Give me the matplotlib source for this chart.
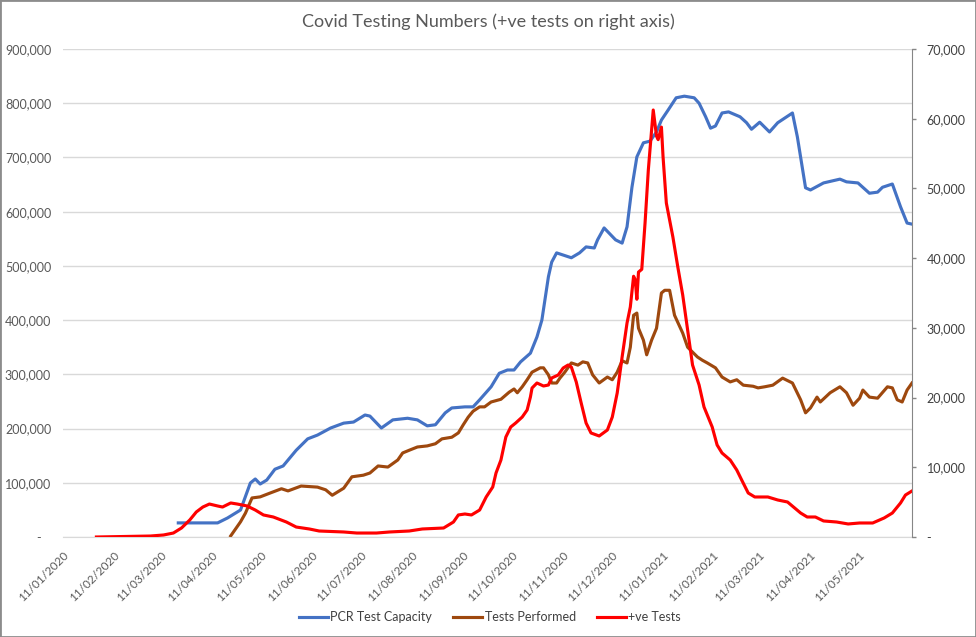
import pandas as pd
import matplotlib
matplotlib.use('Agg')
import matplotlib.pyplot as plt
import matplotlib.dates as mdates
from matplotlib.ticker import FuncFormatter, MultipleLocator
from matplotlib.patches import Rectangle

plt.rcParams['font.family'] = ['Lato', 'DejaVu Sans']

# PCR Test Capacity (eixo esquerdo)
cap_datas = ['2020-03-19', '2020-04-12', '2020-04-18', '2020-04-26', '2020-05-02', '2020-05-05',
             '2020-05-08', '2020-05-12', '2020-05-17', '2020-05-22', '2020-05-30', '2020-06-06',
             '2020-06-12', '2020-06-20', '2020-06-28', '2020-07-04', '2020-07-11', '2020-07-14',
             '2020-07-21', '2020-07-28', '2020-08-06', '2020-08-12', '2020-08-18', '2020-08-23',
             '2020-08-29', '2020-09-02', '2020-09-10', '2020-09-15', '2020-09-19', '2020-09-26',
             '2020-10-01', '2020-10-06', '2020-10-10', '2020-10-14', '2020-10-20', '2020-10-24',
             '2020-10-27', '2020-10-31', '2020-11-02', '2020-11-05', '2020-11-09', '2020-11-14',
             '2020-11-19', '2020-11-23', '2020-11-28', '2020-11-30', '2020-12-04', '2020-12-11',
             '2020-12-15', '2020-12-18', '2020-12-21', '2020-12-24', '2020-12-28', '2021-01-01',
             '2021-01-05', '2021-01-08', '2021-01-12', '2021-01-17', '2021-01-22', '2021-01-28',
             '2021-01-31', '2021-02-04', '2021-02-07', '2021-02-10', '2021-02-14', '2021-02-18',
             '2021-02-25', '2021-03-01', '2021-03-04', '2021-03-09', '2021-03-15', '2021-03-20',
             '2021-03-29', '2021-04-01', '2021-04-06', '2021-04-09', '2021-04-17', '2021-04-27',
             '2021-05-01', '2021-05-08', '2021-05-15', '2021-05-20', '2021-05-23', '2021-05-29',
             '2021-06-03', '2021-06-07', '2021-06-10']
cap_valores = [26000, 26000, 35000, 49800, 99600, 107000,
               97700, 105000, 125000, 131000, 160000, 181000,
               188000, 201000, 210000, 212000, 225000, 223000,
               201000, 216000, 219000, 216000, 205000, 207000,
               229000, 238000, 240000, 240000, 253000, 277000,
               302000, 308000, 308000, 323000, 339000, 369000,
               400000, 480000, 507000, 524000, 520000, 515000,
               524000, 535000, 533000, 548000, 570000, 548000,
               542000, 572000, 645000, 701000, 727000, 730000,
               747000, 769000, 787000, 810000, 813000, 810000,
               800000, 775000, 754000, 758000, 782000, 784000,
               775000, 764000, 752000, 765000, 747000, 764000,
               782000, 738000, 644000, 640000, 653000, 660000,
               655000, 653000, 634000, 636000, 645000, 651000,
               609000, 579000, 577000]

# Tests Performed (eixo esquerdo)
test_datas = ['2020-04-20', '2020-04-26', '2020-04-29', '2020-05-03', '2020-05-08', '2020-05-14',
              '2020-05-21', '2020-05-25', '2020-06-02', '2020-06-12', '2020-06-17', '2020-06-21',
              '2020-06-28', '2020-07-03', '2020-07-10', '2020-07-14', '2020-07-19', '2020-07-25',
              '2020-07-31', '2020-08-03', '2020-08-07', '2020-08-12', '2020-08-18', '2020-08-23',
              '2020-08-27', '2020-09-02', '2020-09-06', '2020-09-09', '2020-09-12', '2020-09-15',
              '2020-09-19', '2020-09-22', '2020-09-26', '2020-10-02', '2020-10-07', '2020-10-10',
              '2020-10-12', '2020-10-15', '2020-10-18', '2020-10-21', '2020-10-26', '2020-10-28',
              '2020-10-31', '2020-11-02', '2020-11-05', '2020-11-07', '2020-11-10', '2020-11-14',
              '2020-11-18', '2020-11-21', '2020-11-24', '2020-11-27', '2020-12-01', '2020-12-06',
              '2020-12-09', '2020-12-12', '2020-12-15', '2020-12-18', '2020-12-20', '2020-12-22',
              '2020-12-24', '2020-12-25', '2020-12-28', '2020-12-30', '2021-01-02', '2021-01-05',
              '2021-01-08', '2021-01-10', '2021-01-13', '2021-01-16', '2021-01-21', '2021-01-24',
              '2021-01-30', '2021-02-02', '2021-02-05', '2021-02-10', '2021-02-14', '2021-02-19',
              '2021-02-23', '2021-02-27', '2021-03-05', '2021-03-08', '2021-03-12', '2021-03-17',
              '2021-03-23', '2021-03-29', '2021-04-03', '2021-04-06', '2021-04-09', '2021-04-13',
              '2021-04-15', '2021-04-21', '2021-04-27', '2021-05-01', '2021-05-05', '2021-05-09',
              '2021-05-11', '2021-05-15', '2021-05-20', '2021-05-26', '2021-05-29', '2021-06-01',
              '2021-06-04', '2021-06-07', '2021-06-10']
test_valores = [2000, 28000, 44000, 72000, 74000, 81000,
                89000, 85000, 94000, 92000, 87000, 77000,
                90000, 111000, 114000, 118000, 131000, 129000,
                142000, 155000, 160000, 166000, 168000, 172000,
                181000, 184000, 192000, 207000, 221000, 232000,
                240000, 240000, 249000, 254000, 267000, 273000,
                266000, 277000, 290000, 304000, 312000, 312000,
                299000, 284000, 284000, 293000, 304000, 321000,
                317000, 323000, 321000, 299000, 284000, 295000,
                290000, 304000, 325000, 321000, 350000, 409000,
                413000, 385000, 363000, 336000, 363000, 385000,
                450000, 455000, 455000, 409000, 376000, 350000,
                332000, 326000, 321000, 312000, 295000, 286000,
                290000, 280000, 278000, 275000, 277000, 280000,
                293000, 284000, 253000, 229000, 238000, 258000,
                249000, 266000, 277000, 266000, 243000, 256000,
                271000, 258000, 256000, 277000, 275000, 253000,
                249000, 271000, 284000]

# +ve Tests (eixo direito)
pos_datas = ['2020-01-29', '2020-03-02', '2020-03-10', '2020-03-16', '2020-03-21', '2020-03-26',
             '2020-03-30', '2020-04-03', '2020-04-07', '2020-04-12', '2020-04-15', '2020-04-20',
             '2020-04-24', '2020-04-30', '2020-05-05', '2020-05-10', '2020-05-16', '2020-05-24',
             '2020-05-30', '2020-06-07', '2020-06-13', '2020-06-28', '2020-07-06', '2020-07-18',
             '2020-07-26', '2020-08-07', '2020-08-15', '2020-08-28', '2020-09-03', '2020-09-06',
             '2020-09-10', '2020-09-14', '2020-09-19', '2020-09-23', '2020-09-27', '2020-09-29',
             '2020-10-02', '2020-10-05', '2020-10-08', '2020-10-11', '2020-10-15', '2020-10-18',
             '2020-10-20', '2020-10-21', '2020-10-24', '2020-10-28', '2020-10-31', '2020-11-02',
             '2020-11-06', '2020-11-09', '2020-11-12', '2020-11-14', '2020-11-17', '2020-11-20',
             '2020-11-23', '2020-11-26', '2020-12-01', '2020-12-06', '2020-12-09', '2020-12-12',
             '2020-12-15', '2020-12-18', '2020-12-20', '2020-12-22', '2020-12-23', '2020-12-24',
             '2020-12-25', '2020-12-27', '2020-12-29', '2020-12-31', '2021-01-03', '2021-01-05',
             '2021-01-06', '2021-01-08', '2021-01-09', '2021-01-11', '2021-01-15', '2021-01-18',
             '2021-01-21', '2021-01-24', '2021-01-27', '2021-01-31', '2021-02-03', '2021-02-08',
             '2021-02-11', '2021-02-14', '2021-02-19', '2021-02-23', '2021-02-26', '2021-03-02',
             '2021-03-06', '2021-03-14', '2021-03-20', '2021-03-26', '2021-04-03', '2021-04-07',
             '2021-04-12', '2021-04-17', '2021-04-25', '2021-05-02', '2021-05-09', '2021-05-17',
             '2021-05-24', '2021-05-29', '2021-06-03', '2021-06-06', '2021-06-10']
pos_valores = [0, 140, 290, 570, 1300, 2440,
               3590, 4300, 4730, 4450, 4300, 4880,
               4730, 4450, 3870, 3160, 2870, 2150,
               1430, 1150, 860, 720, 570, 570,
               720, 860, 1150, 1290, 2150, 3160,
               3300, 3160, 3870, 5740, 7170, 9180,
               11040, 14340, 15780, 16350, 17210, 18220,
               20080, 21370, 22090, 21660, 21800, 22810,
               23240, 24240, 24670, 24380, 22230, 19220,
               16350, 14920, 14490, 15350, 17210, 20660,
               25820, 30700, 32990, 37400, 36900, 34100,
               38000, 38400, 45040, 52640, 61250, 57500,
               57000, 58800, 54500, 47910, 43030, 38730,
               34710, 29690, 24670, 21800, 18650, 15780,
               13200, 12050, 11040, 9610, 8180, 6310,
               5740, 5740, 5310, 5020, 3440, 2870,
               2870, 2300, 2150, 1870, 2010, 2010,
               2730, 3440, 4880, 6020, 6600]

CINZA = '#595959'
W, H = 976, 637

fig = plt.figure(figsize=(W / 100, H / 100), dpi=100)
ax = fig.add_axes([63 / W, 1 - 537 / H, (912 - 63) / W, (537 - 49) / H])
ax2 = ax.twinx()

l1, = ax.plot(pd.to_datetime(cap_datas), cap_valores, color='#4472C4', lw=2.25,
              label='PCR Test Capacity', solid_joinstyle='round')
l2, = ax.plot(pd.to_datetime(test_datas), test_valores, color='#9E480E', lw=2.25,
              label='Tests Performed', solid_joinstyle='round')
l3, = ax2.plot(pd.to_datetime(pos_datas), pos_valores, color='#FF0000', lw=2.25,
               label='+ve Tests', solid_joinstyle='round')

fmt = lambda v, p: '-' if v == 0 else f'{v:,.0f}'

ax.set_ylim(0, 900000)
ax.yaxis.set_major_locator(MultipleLocator(100000))
ax.yaxis.set_major_formatter(FuncFormatter(lambda v, p: '-   ' if v == 0 else f'{v:,.0f}'))
ax.grid(axis='y', color='#D9D9D9', lw=1)
ax.set_axisbelow(True)
ax.tick_params(axis='y', length=0, pad=8.5, labelsize=9, labelcolor=CINZA)

ax2.set_ylim(0, 70000)
ax2.yaxis.set_major_locator(MultipleLocator(10000))
ax2.yaxis.set_major_formatter(FuncFormatter(fmt))
ax2.tick_params(axis='y', length=3, width=1, color='#868686', direction='out',
                pad=7.5, labelsize=9, labelcolor='#404040')

ax.set_xlim(pd.Timestamp('2020-01-11') - pd.Timedelta(days=2.4), pd.Timestamp('2021-06-10'))
ticks = pd.date_range('2020-01-01', '2021-05-01', freq='MS') + pd.Timedelta(days=10)
ax.set_xticks(ticks)
ax.xaxis.set_major_formatter(mdates.DateFormatter('%d/%m/%Y'))
ax.tick_params(axis='x', length=0, pad=12, labelsize=8.5, labelcolor=CINZA)
for t in ax.get_xticklabels():
    t.set_rotation(45)
    t.set_ha('right')
    t.set_va('center')
    t.set_rotation_mode('anchor')

for s in ['top', 'left', 'right']:
    ax.spines[s].set_visible(False)
    ax2.spines[s].set_visible(False)
ax.spines['bottom'].set_color('#D9D9D9')
ax2.spines['bottom'].set_visible(False)
ax2.spines['right'].set_visible(True)
ax2.spines['right'].set_color('#868686')

fig.text(0.5, 1 - 22 / H, 'Covid Testing Numbers (+ve tests on right axis)',
         ha='center', va='center', fontsize=13, color=CINZA)

fig.legend(handles=[l1, l2, l3], loc='center', bbox_to_anchor=(490 / W, 1 - 617 / H),
           ncol=3, frameon=False, fontsize=9, handlelength=2.3, handletextpad=0.2,
           columnspacing=1.7, labelcolor='#404040')

fig.patches.append(Rectangle((0, 0), 1, 1, transform=fig.transFigure, fill=False,
                             edgecolor='#8C8C8C', lw=2))

fig.savefig('out.png', dpi=100)
